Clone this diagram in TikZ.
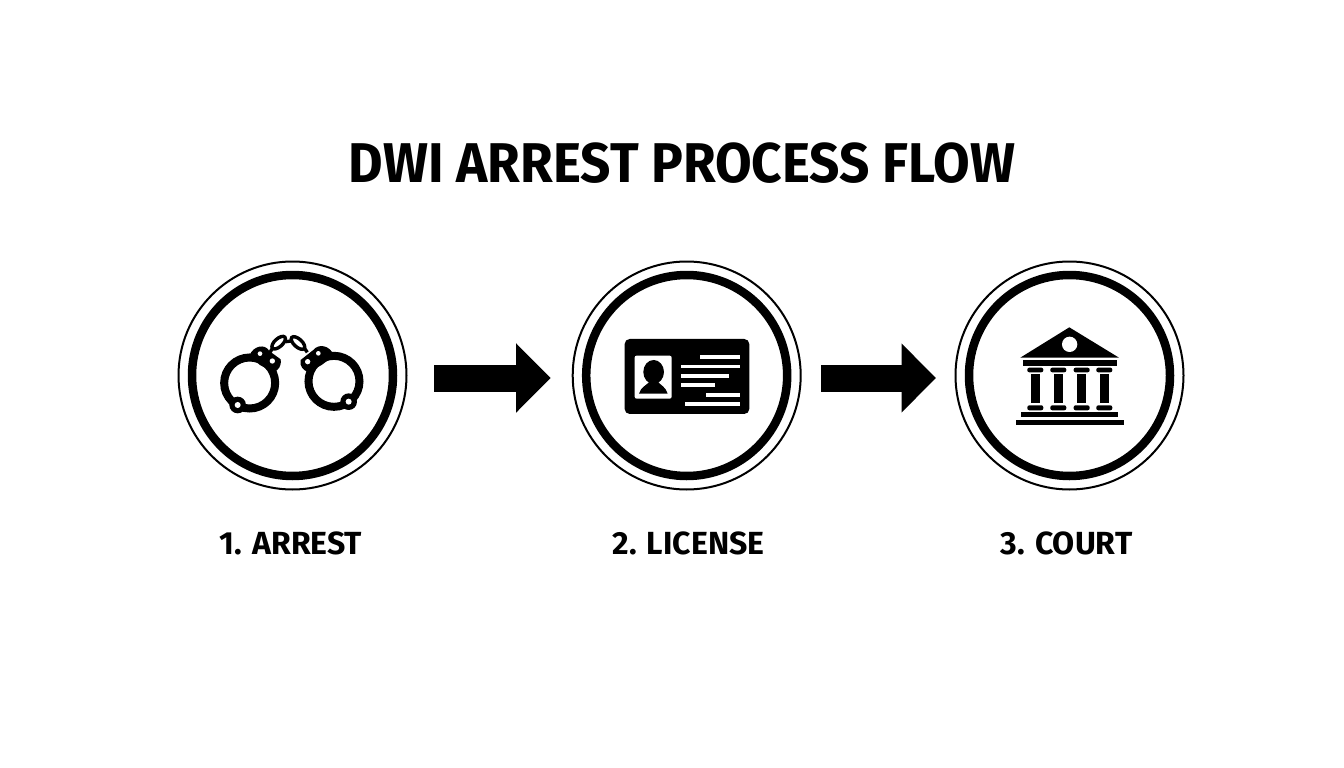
\documentclass[tikz,border=0pt]{standalone}
\usepackage{fontspec}
\usepackage{graphicx}
\setmainfont{Fira Sans}
\usetikzlibrary{arrows.meta}
\tikzset{
  ring/.style={draw, circle, line width=2pt, minimum size=228pt, inner sep=0pt},
  flowarrow/.style={draw, line width=27pt, -{Triangle[length=34.5pt,width=67pt]}},
  steplabel/.style={font=\fontsize{32}{36}\bfseries},
  blk/.style={fill=black, draw=none},
  wht/.style={fill=white, draw=none}
}
\begin{document}
\begin{tikzpicture}[x=1pt,y=-1pt]
\useasboundingbox (0,0) rectangle (1344,768);
\node[font=\fontsize{56}{60}\bfseries] (title) at (682,163) {\scalebox{0.948}[1]{DWI ARREST PROCESS FLOW}};

\node[ring] (arrest) at (292.5,375.5) {};
\node[ring] (license) at (686.7,375.5) {};
\node[ring] (court) at (1069.5,375.5) {};
\draw[line width=8.5pt] (arrest) circle (100.5);
\draw[line width=8.5pt] (license) circle (100.5);
\draw[line width=8.5pt] (court) circle (100.5);

\node[steplabel] (arrestlabel) at (291,543) {1. ARREST};
\node[steplabel] (licenselabel) at (688.5,543) {2. LICENSE};
\node[steplabel] (courtlabel) at (1066.5,543) {3. COURT};

\path[flowarrow,shorten <=26.5pt,shorten >=21pt] ([yshift=-2.5pt]arrest.east) -- ([yshift=-2.5pt]license.west);
\path[flowarrow,shorten <=19.5pt,shorten >=18.5pt] ([yshift=-2.5pt]license.east) -- ([yshift=-2.5pt]court.west);

\begin{scope}[shift={(210,325)},x=0.3333pt,y=-0.3333pt]
\draw[line width=8pt] (119,174) circle (76.5);
\draw[line width=8pt] (372,169) circle (76.5);
\fill[blk] (118,92) .. controls (130,62) and (165,55) .. (178,78) -- (212,103) .. controls (215,125) and (205,135) .. (190,142) -- (150,120) -- cycle;
\fill[blk] (372,92) .. controls (360,60) and (325,55) .. (310,75) -- (272,105) .. controls (268,125) and (280,135) .. (295,142) -- (335,120) -- cycle;
\fill[blk] (83,240) circle (25) (416,230) circle (25);
\fill[wht] (150,86) circle (7) (187,108) circle (8) (83,240) circle (9);
\fill[wht] (325,85) circle (7) (293,110) circle (8) (416,230) circle (9);
\draw[line width=3.4pt,rotate around={42:(206,53)}] (206,53) ellipse (25 and 12);
\draw[line width=3.4pt,rotate around={-42:(264,54)}] (264,54) ellipse (25 and 12);
\draw[line width=3.4pt] (227,50) -- (243,48);
\draw[line width=3.4pt] (186,72) -- (180,82);
\draw[line width=3.4pt] (285,72) -- (292,82);
\end{scope}

\begin{scope}[shift={(420,250)},x=0.3333pt,y=-0.3333pt]
\fill[blk,rounded corners=5pt] (614,267) rectangle (988,492);
\fill[wht,rounded corners=2pt] (644,317) rectangle (755,446);
\fill[blk] (701,366) ellipse (31 and 36);
\fill[blk] (657,431) .. controls (662,412) and (680,405) .. (688,396) -- (714,396) .. controls (722,405) and (738,412) .. (743,431) -- cycle;
\fill[wht] (840,316) rectangle (959,327);
\fill[wht] (783,344) rectangle (959,355);
\fill[wht] (783,373) rectangle (927,384);
\fill[wht] (783,400) rectangle (885,411);
\fill[wht] (857,429) rectangle (959,440);
\fill[wht] (794,457) rectangle (959,468);
\end{scope}

\begin{scope}[shift={(810,250)},x=0.3333pt,y=-0.3333pt]
\fill[blk] (778,232) -- (927,323) -- (631,323) -- cycle;
\fill[wht] (779,283) circle (23);
\fill[blk] (638,331) rectangle (920,347);
\foreach \colx in {676,745,815,883} {
  \fill[blk,rounded corners=2pt] (\colx-24,353) rectangle (\colx+24,367);
  \fill[blk] (\colx-14,373) rectangle (\colx+14,459);
  \fill[blk,rounded corners=2pt] (\colx-24,466) rectangle (\colx+24,481);
}
\fill[blk] (633,487) rectangle (925,502);
\fill[blk] (617,509) rectangle (941,526);
\end{scope}
\end{tikzpicture}
\end{document}
